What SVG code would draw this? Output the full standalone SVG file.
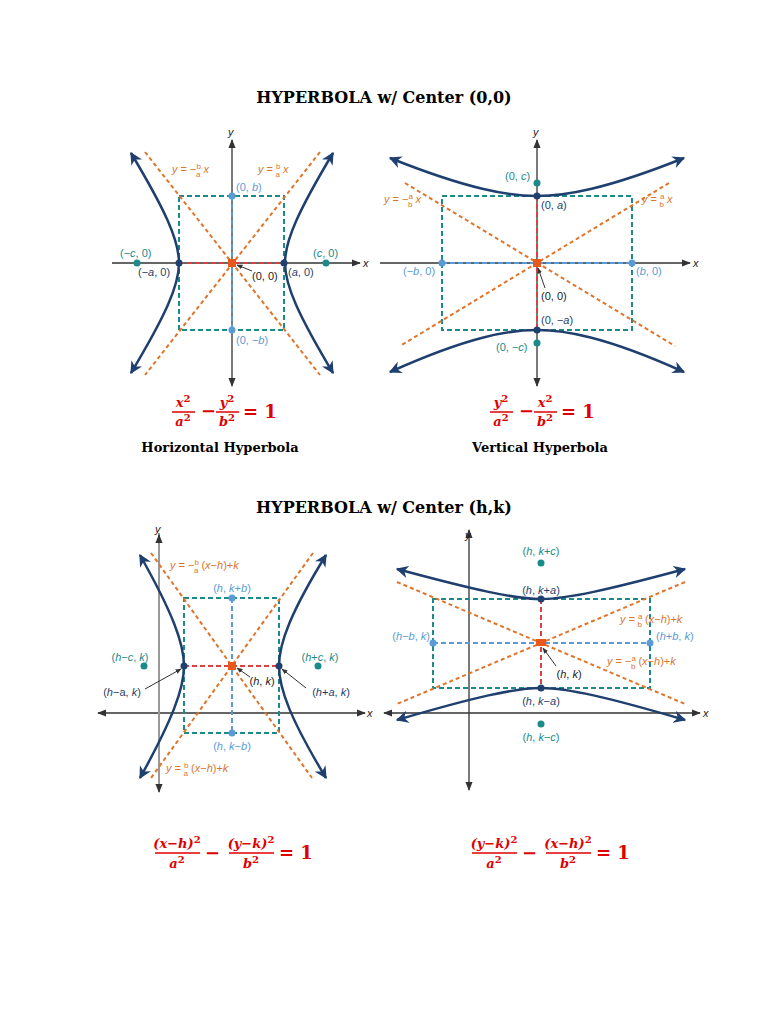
<svg xmlns="http://www.w3.org/2000/svg" width="768" height="1024" viewBox="0 0 768 1024">
<style>
.ax{stroke:#333;stroke-width:1.3;fill:none}
.ax2{stroke:#999;stroke-width:2;fill:none}
.hy{stroke:#1f3f6e;stroke-width:2.5;fill:none}
.as{stroke:#e0742a;stroke-width:2;stroke-dasharray:4 3;fill:none}
.bx{stroke:#1b8a8a;stroke-width:2;stroke-dasharray:5 3;fill:none}
.lb{stroke:#5b9bd5;stroke-width:2;stroke-dasharray:5 3;fill:none}
.rd{stroke:#d94040;stroke-width:2;stroke-dasharray:5 3;fill:none}
.ar{stroke:#333;stroke-width:1;fill:none}
text{font-family:"Liberation Sans",Arial,sans-serif;font-size:11px}
.t{font-family:"DejaVu Serif",serif;font-weight:bold;font-size:16px;fill:#000}
.c{font-family:"DejaVu Serif",serif;font-weight:bold;font-size:13px;fill:#000}
.nv{fill:#1f3f6e}.tl{fill:#1b8a8a}.bl{fill:#5b9bd5}.or{fill:#d9762f}.bk{fill:#222}
.eq{font-family:"DejaVu Serif",serif;font-weight:bold;font-style:italic;font-size:13px;fill:#e00000}
.sp{font-size:10px;font-style:normal}
.eqb{font-family:"DejaVu Serif",serif;font-weight:bold;font-size:18px;fill:#e00000}
.fr{stroke:#e00000;stroke-width:1.5}
</style>
<defs>
<marker id="a" viewBox="0 0 10 10" refX="9" refY="5" markerWidth="7" markerHeight="7" orient="auto-start-reverse"><path d="M0,1 L10,5 L0,9 z" fill="#333"/></marker>
<marker id="h" viewBox="0 0 10 10" refX="9" refY="5" markerWidth="5" markerHeight="5" orient="auto-start-reverse"><path d="M0,0 L10,5 L0,10 L3,5 z" fill="#1f3f6e"/></marker>
<marker id="s" viewBox="0 0 10 10" refX="9" refY="5" markerWidth="6" markerHeight="6" orient="auto"><path d="M0,1 L10,5 L0,9 z" fill="#333"/></marker>
</defs>

<text class="t" x="384" y="103" text-anchor="middle">HYPERBOLA w/ Center (0,0)</text>
<text class="t" x="384" y="513" text-anchor="middle">HYPERBOLA w/ Center (h,k)</text>

<!-- Top-left -->
<g id="g1">
<line class="ax" x1="112" y1="263" x2="360" y2="263" marker-end="url(#a)"/>
<line class="ax" x1="232" y1="140" x2="232" y2="386" marker-start="url(#a)" marker-end="url(#a)"/>
<text x="363" y="267" class="bk" font-style="italic" font-size="12">x</text>
<text x="228" y="136" class="bk" font-style="italic" font-size="12">y</text>
<rect class="bx" x="179" y="196" width="105" height="134"/>
<line class="lb" x1="232" y1="196" x2="232" y2="330"/>
<line class="rd" x1="179" y1="263" x2="284" y2="263"/>
<line class="as" x1="145" y1="152" x2="320" y2="375"/>
<line class="as" x1="320" y1="152" x2="145" y2="375"/>
<path class="hy" d="M131,153 C165,210 179,240 179,263 C179,286 165,316 131,373" marker-start="url(#h)" marker-end="url(#h)"/>
<path class="hy" d="M333,153 C299,210 285,240 285,263 C285,286 299,316 333,373" marker-start="url(#h)" marker-end="url(#h)"/>
<circle cx="179" cy="263" r="3.5" fill="#1f3f6e"/><circle cx="284" cy="263" r="3.5" fill="#1f3f6e"/>
<circle cx="137" cy="263" r="3.5" fill="#1b8a8a"/><circle cx="326" cy="263" r="3.5" fill="#1b8a8a"/>
<circle cx="232" cy="196" r="3.5" fill="#5b9bd5"/><circle cx="232" cy="330" r="3.5" fill="#5b9bd5"/>
<rect x="228" y="259" width="8" height="8" fill="#e8581c"/>
<line class="ar" x1="252" y1="271" x2="237" y2="265" marker-end="url(#s)"/>
<text class="tl" x="120" y="257">(−<tspan font-style="italic">c</tspan>, 0)</text>
<text class="nv" x="138" y="276">(−<tspan font-style="italic">a</tspan>, 0)</text>
<text class="bk" x="252" y="280">(0, 0)</text>
<text class="nv" x="288" y="276">(<tspan font-style="italic">a</tspan>, 0)</text>
<text class="tl" x="313" y="257">(<tspan font-style="italic">c</tspan>, 0)</text>
<text class="bl" x="236" y="191">(0, <tspan font-style="italic">b</tspan>)</text>
<text class="bl" x="236" y="344">(0, −<tspan font-style="italic">b</tspan>)</text>
<text class="or" x="172" y="173"><tspan font-style="italic">y</tspan> = −<tspan font-size="8" dy="-4">b</tspan><tspan font-size="8" dx="-5" dy="8">a</tspan><tspan dy="-4" font-style="italic"> x</tspan></text>
<text class="or" x="258" y="173"><tspan font-style="italic">y</tspan> = <tspan font-size="8" dy="-4">b</tspan><tspan font-size="8" dx="-5" dy="8">a</tspan><tspan dy="-4" font-style="italic"> x</tspan></text>
</g>

<!-- Top-right -->
<g id="g2">
<line class="ax" x1="380" y1="263" x2="690" y2="263" marker-end="url(#a)"/>
<line class="ax" x1="537" y1="140" x2="537" y2="386" marker-start="url(#a)" marker-end="url(#a)"/>
<text x="693" y="267" class="bk" font-style="italic" font-size="12">x</text>
<text x="533" y="136" class="bk" font-style="italic" font-size="12">y</text>
<rect class="bx" x="442" y="196" width="190" height="134"/>
<line class="lb" x1="442" y1="263" x2="632" y2="263"/>
<line class="rd" x1="537" y1="196" x2="537" y2="330"/>
<line class="as" x1="405" y1="183" x2="675" y2="346"/>
<line class="as" x1="669" y1="183" x2="400" y2="346"/>
<path class="hy" d="M390,158 C470,190 510,196 537,196 C564,196 604,190 684,158" marker-start="url(#h)" marker-end="url(#h)"/>
<path class="hy" d="M390,372 C470,336 510,330 537,330 C564,330 604,336 684,372" marker-start="url(#h)" marker-end="url(#h)"/>
<circle cx="537" cy="196" r="3.5" fill="#1f3f6e"/><circle cx="537" cy="330" r="3.5" fill="#1f3f6e"/>
<circle cx="537" cy="183" r="3.5" fill="#1b8a8a"/><circle cx="537" cy="343" r="3.5" fill="#1b8a8a"/>
<circle cx="442" cy="263" r="3.5" fill="#5b9bd5"/><circle cx="632" cy="263" r="3.5" fill="#5b9bd5"/>
<rect x="533" y="259" width="8" height="8" fill="#e8581c"/>
<line class="ar" x1="545" y1="288" x2="538" y2="268" marker-end="url(#s)"/>
<text class="tl" x="505" y="180">(0, <tspan font-style="italic">c</tspan>)</text>
<text class="nv" x="541" y="209">(0, <tspan font-style="italic">a</tspan>)</text>
<text class="bk" x="541" y="300">(0, 0)</text>
<text class="nv" x="541" y="324">(0, −<tspan font-style="italic">a</tspan>)</text>
<text class="tl" x="496" y="351">(0, −<tspan font-style="italic">c</tspan>)</text>
<text class="bl" x="403" y="275">(−<tspan font-style="italic">b</tspan>, 0)</text>
<text class="bl" x="636" y="275">(<tspan font-style="italic">b</tspan>, 0)</text>
<text class="or" x="384" y="203"><tspan font-style="italic">y</tspan> = −<tspan font-size="8" dy="-4">a</tspan><tspan font-size="8" dx="-5" dy="8">b</tspan><tspan dy="-4" font-style="italic"> x</tspan></text>
<text class="or" x="642" y="203"><tspan font-style="italic">y</tspan> = <tspan font-size="8" dy="-4">a</tspan><tspan font-size="8" dx="-5" dy="8">b</tspan><tspan dy="-4" font-style="italic"> x</tspan></text>
</g>

<!-- Top equations -->
<g id="e1">
<text class="eq" x="183" y="407" text-anchor="middle">x<tspan class="sp" dy="-5">2</tspan></text><line class="fr" x1="172" y1="412" x2="195" y2="412"/><text class="eq" x="183" y="426" text-anchor="middle">a<tspan class="sp" dy="-5">2</tspan></text>
<text class="eqb" x="201" y="417">−</text>
<text class="eq" x="227" y="407" text-anchor="middle">y<tspan class="sp" dy="-5">2</tspan></text><line class="fr" x1="216" y1="412" x2="239" y2="412"/><text class="eq" x="227" y="426" text-anchor="middle">b<tspan class="sp" dy="-5">2</tspan></text>
<text class="eqb" x="243" y="418">= 1</text>
</g>
<g id="e2">
<text class="eq" x="501" y="407" text-anchor="middle">y<tspan class="sp" dy="-5">2</tspan></text><line class="fr" x1="490" y1="412" x2="513" y2="412"/><text class="eq" x="501" y="426" text-anchor="middle">a<tspan class="sp" dy="-5">2</tspan></text>
<text class="eqb" x="519" y="417">−</text>
<text class="eq" x="545" y="407" text-anchor="middle">x<tspan class="sp" dy="-5">2</tspan></text><line class="fr" x1="534" y1="412" x2="557" y2="412"/><text class="eq" x="545" y="426" text-anchor="middle">b<tspan class="sp" dy="-5">2</tspan></text>
<text class="eqb" x="561" y="418">= 1</text>
</g>
<text class="c" x="220" y="452" text-anchor="middle">Horizontal Hyperbola</text>
<text class="c" x="540" y="452" text-anchor="middle">Vertical Hyperbola</text>

<!-- Bottom-left -->
<g id="g3">
<line class="ax" x1="98" y1="713" x2="365" y2="713" marker-start="url(#a)" marker-end="url(#a)"/>
<line class="ax2" x1="159" y1="533" x2="159" y2="790"/>
<line class="ax" x1="159" y1="540" x2="159" y2="535" marker-end="url(#a)"/>
<line class="ax" x1="159" y1="785" x2="159" y2="792" marker-end="url(#a)"/>
<text x="367" y="717" class="bk" font-style="italic" font-size="12">x</text>
<text x="155" y="533" class="bk" font-style="italic" font-size="12">y</text>
<rect class="bx" x="184" y="598" width="95" height="135"/>
<line class="lb" x1="232" y1="598" x2="232" y2="733"/>
<line class="rd" x1="184" y1="666" x2="279" y2="666"/>
<line class="as" x1="151" y1="553" x2="312" y2="778"/>
<line class="as" x1="313" y1="553" x2="151" y2="778"/>
<path class="hy" d="M140,555 C172,612 184,643 184,666 C184,689 172,720 140,778" marker-start="url(#h)" marker-end="url(#h)"/>
<path class="hy" d="M326,555 C291,612 279,643 279,666 C279,689 291,720 326,778" marker-start="url(#h)" marker-end="url(#h)"/>
<circle cx="184" cy="666" r="3.5" fill="#1f3f6e"/><circle cx="279" cy="666" r="3.5" fill="#1f3f6e"/>
<circle cx="144" cy="666" r="3.5" fill="#1b8a8a"/><circle cx="318" cy="666" r="3.5" fill="#1b8a8a"/>
<circle cx="232" cy="598" r="3.5" fill="#5b9bd5"/><circle cx="232" cy="733" r="3.5" fill="#5b9bd5"/>
<rect x="228" y="662" width="8" height="8" fill="#e8581c"/>
<line class="ar" x1="145" y1="689" x2="181" y2="669" marker-end="url(#s)"/>
<line class="ar" x1="250" y1="677" x2="237" y2="668" marker-end="url(#s)"/>
<line class="ar" x1="306" y1="688" x2="282" y2="669" marker-end="url(#s)"/>
<text class="or" x="170" y="569"><tspan font-style="italic">y</tspan> = −<tspan font-size="8" dy="-4">b</tspan><tspan font-size="8" dx="-5" dy="8">a</tspan><tspan dy="-4"> (<tspan font-style="italic">x</tspan>−<tspan font-style="italic">h</tspan>)+<tspan font-style="italic">k</tspan></tspan></text>
<text class="bl" x="232" y="592" text-anchor="middle">(<tspan font-style="italic">h</tspan>, <tspan font-style="italic">k</tspan>+<tspan font-style="italic">b</tspan>)</text>
<text class="tl" x="130" y="661" text-anchor="middle">(<tspan font-style="italic">h</tspan>−<tspan font-style="italic">c</tspan>, <tspan font-style="italic">k</tspan>)</text>
<text class="tl" x="320" y="661" text-anchor="middle">(<tspan font-style="italic">h</tspan>+<tspan font-style="italic">c</tspan>, <tspan font-style="italic">k</tspan>)</text>
<text class="nv" x="122" y="696" text-anchor="middle">(<tspan font-style="italic">h</tspan>−a, <tspan font-style="italic">k</tspan>)</text>
<text class="bk" x="262" y="685" text-anchor="middle">(<tspan font-style="italic">h</tspan>, <tspan font-style="italic">k</tspan>)</text>
<text class="nv" x="331" y="696" text-anchor="middle">(<tspan font-style="italic">h</tspan>+<tspan font-style="italic">a</tspan>, <tspan font-style="italic">k</tspan>)</text>
<text class="bl" x="232" y="750" text-anchor="middle">(<tspan font-style="italic">h</tspan>, <tspan font-style="italic">k</tspan>−<tspan font-style="italic">b</tspan>)</text>
<text class="or" x="166" y="772"><tspan font-style="italic">y</tspan> = <tspan font-size="8" dy="-4">b</tspan><tspan font-size="8" dx="-5" dy="8">a</tspan><tspan dy="-4"> (<tspan font-style="italic">x</tspan>−<tspan font-style="italic">h</tspan>)+<tspan font-style="italic">k</tspan></tspan></text>
</g>

<!-- Bottom-right -->
<g id="g4">
<line class="ax" x1="384" y1="713" x2="700" y2="713" marker-start="url(#a)" marker-end="url(#a)"/>
<line class="ax" x1="469" y1="530" x2="469" y2="790" marker-start="url(#a)" marker-end="url(#a)"/>
<text x="703" y="717" class="bk" font-style="italic" font-size="12">x</text>
<text x="465" y="539" class="bk" font-style="italic" font-size="12">y</text>
<rect class="bx" x="433" y="599" width="217" height="89"/>
<line class="lb" x1="433" y1="643" x2="650" y2="643"/>
<line class="rd" x1="541" y1="599" x2="541" y2="688"/>
<line class="as" x1="397" y1="582" x2="685" y2="704"/>
<line class="as" x1="685" y1="582" x2="397" y2="704"/>
<path class="hy" d="M397,569 C475,590 515,599 541,599 C567,599 607,590 685,569" marker-start="url(#h)" marker-end="url(#h)"/>
<path class="hy" d="M397,720 C475,697 515,688 541,688 C567,688 607,697 685,720" marker-start="url(#h)" marker-end="url(#h)"/>
<circle cx="541" cy="599" r="3.5" fill="#1f3f6e"/><circle cx="541" cy="688" r="3.5" fill="#1f3f6e"/>
<circle cx="541" cy="563" r="3.5" fill="#1b8a8a"/><circle cx="541" cy="724" r="3.5" fill="#1b8a8a"/>
<circle cx="433" cy="643" r="3.5" fill="#5b9bd5"/><circle cx="650" cy="643" r="3.5" fill="#5b9bd5"/>
<rect x="536" y="639" width="10" height="7" fill="#e8581c"/>
<line class="ar" x1="556" y1="666" x2="543" y2="648" marker-end="url(#s)"/>
<text class="tl" x="541" y="555" text-anchor="middle">(<tspan font-style="italic">h</tspan>, <tspan font-style="italic">k</tspan>+<tspan font-style="italic">c</tspan>)</text>
<text class="nv" x="541" y="594" text-anchor="middle">(<tspan font-style="italic">h</tspan>, <tspan font-style="italic">k</tspan>+<tspan font-style="italic">a</tspan>)</text>
<text class="bl" x="430" y="640" text-anchor="end">(<tspan font-style="italic">h</tspan>−<tspan font-style="italic">b</tspan>, <tspan font-style="italic">k</tspan>)</text>
<text class="bl" x="656" y="640">(<tspan font-style="italic">h</tspan>+<tspan font-style="italic">b</tspan>, <tspan font-style="italic">k</tspan>)</text>
<text class="or" x="620" y="623"><tspan font-style="italic">y</tspan> = <tspan font-size="8" dy="-4">a</tspan><tspan font-size="8" dx="-5" dy="8">b</tspan><tspan dy="-4"> (<tspan font-style="italic">x</tspan>−<tspan font-style="italic">h</tspan>)+<tspan font-style="italic">k</tspan></tspan></text>
<text class="or" x="607" y="665"><tspan font-style="italic">y</tspan> = −<tspan font-size="8" dy="-4">a</tspan><tspan font-size="8" dx="-5" dy="8">b</tspan><tspan dy="-4"> (<tspan font-style="italic">x</tspan>−<tspan font-style="italic">h</tspan>)+<tspan font-style="italic">k</tspan></tspan></text>
<text class="bk" x="569" y="678" text-anchor="middle">(<tspan font-style="italic">h</tspan>, <tspan font-style="italic">k</tspan>)</text>
<text class="nv" x="541" y="705" text-anchor="middle">(<tspan font-style="italic">h</tspan>, <tspan font-style="italic">k</tspan>−<tspan font-style="italic">a</tspan>)</text>
<text class="tl" x="541" y="741" text-anchor="middle">(<tspan font-style="italic">h</tspan>, <tspan font-style="italic">k</tspan>−<tspan font-style="italic">c</tspan>)</text>
</g>

<!-- Bottom equations -->
<g id="e3">
<text class="eq" x="177" y="848" text-anchor="middle">(x−h)<tspan class="sp" dy="-5">2</tspan></text><line class="fr" x1="155" y1="853" x2="200" y2="853"/><text class="eq" x="177" y="868" text-anchor="middle">a<tspan class="sp" dy="-5">2</tspan></text>
<text class="eqb" x="205" y="859">−</text>
<text class="eq" x="251" y="848" text-anchor="middle">(y−k)<tspan class="sp" dy="-5">2</tspan></text><line class="fr" x1="229" y1="853" x2="274" y2="853"/><text class="eq" x="251" y="868" text-anchor="middle">b<tspan class="sp" dy="-5">2</tspan></text>
<text class="eqb" x="279" y="859">= 1</text>
</g>
<g id="e4">
<text class="eq" x="494" y="848" text-anchor="middle">(y−k)<tspan class="sp" dy="-5">2</tspan></text><line class="fr" x1="472" y1="853" x2="517" y2="853"/><text class="eq" x="494" y="868" text-anchor="middle">a<tspan class="sp" dy="-5">2</tspan></text>
<text class="eqb" x="522" y="859">−</text>
<text class="eq" x="568" y="848" text-anchor="middle">(x−h)<tspan class="sp" dy="-5">2</tspan></text><line class="fr" x1="546" y1="853" x2="591" y2="853"/><text class="eq" x="568" y="868" text-anchor="middle">b<tspan class="sp" dy="-5">2</tspan></text>
<text class="eqb" x="596" y="859">= 1</text>
</g>
</svg>
